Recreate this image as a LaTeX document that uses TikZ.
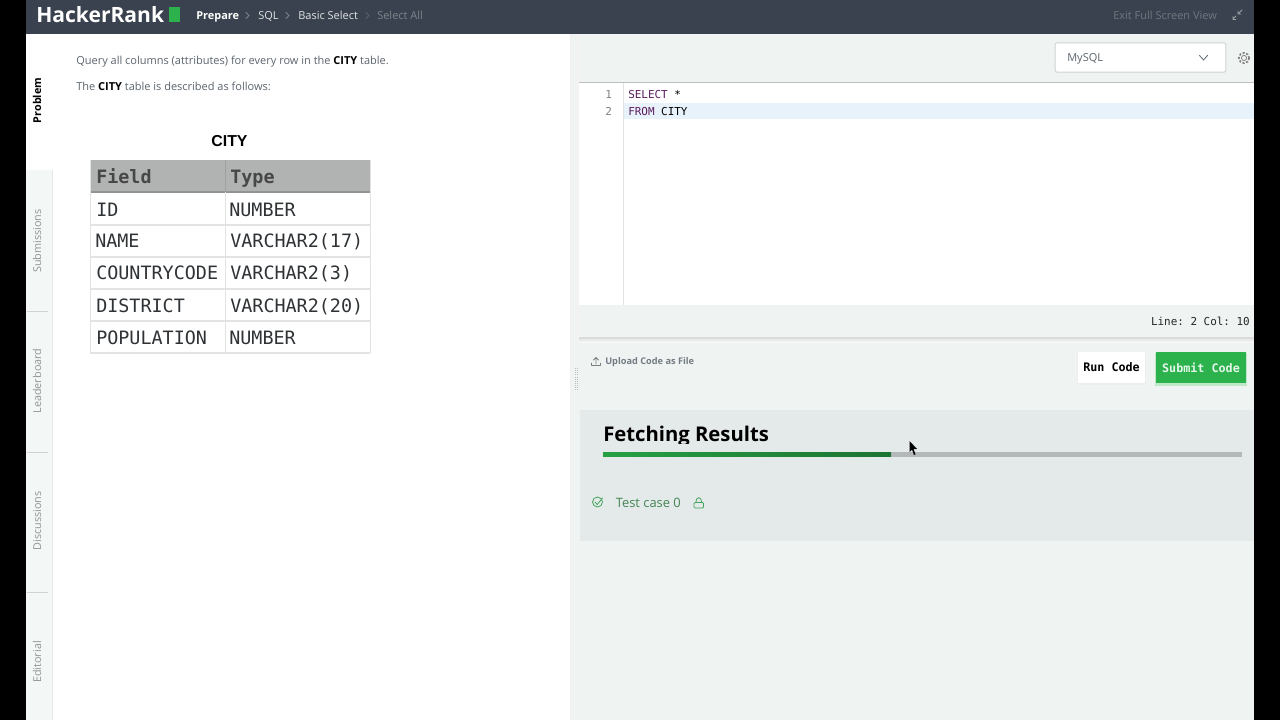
\documentclass[tikz,border=0pt]{standalone}
\usepackage{fontspec}
\setmainfont{Open Sans}
\setmonofont{DejaVu Sans Mono}
\newfontfamily\titlefont{Liberation Sans}

\definecolor{barbg}{HTML}{39424E}
\definecolor{panelbg}{HTML}{EFF4F2}
\definecolor{resultbg}{HTML}{E3EAE9}
\definecolor{tabbg}{HTML}{F3F7F6}
\definecolor{hrgreen}{HTML}{2BB24C}
\definecolor{headgray}{HTML}{B0B3B2}
\definecolor{gridgray}{HTML}{E2E4E4}
\definecolor{bodytext}{HTML}{5B646E}
\definecolor{celltext}{HTML}{2F3336}
\definecolor{keyword}{HTML}{5A1B5E}
\definecolor{lineblue}{HTML}{E8F2FA}

\tikzset{
    crumb/.style={inner sep=0, anchor=west, text height=6pt, text depth=0pt, font=\fontsize{8.25}{10}\selectfont},
    tablabel/.style={inner sep=0, rotate=90, text=gray!85, text height=6pt, text depth=0pt, font=\fontsize{8.1}{10}\selectfont},
    prose/.style={crumb, text=bodytext},
    cell/.style={inner sep=0, anchor=west, text=celltext, text height=10pt, text depth=0pt, font=\ttfamily\fontsize{13.8}{15}\selectfont},
    headcell/.style={cell, text=black!72, font=\ttfamily\bfseries\fontsize{13.8}{15}\selectfont},
    code/.style={inner sep=0, anchor=west, text height=6pt, text depth=0pt, font=\ttfamily\fontsize{8.2}{10}\selectfont},
    action/.style={inner sep=0, minimum height=23.25pt, font=\ttfamily\bfseries\fontsize{8.8}{10}\selectfont},
    icon/.style={line width=0.6pt, line cap=round, line join=round}
}

\begin{document}
\begin{tikzpicture}[x=0.75pt, y=-0.75pt]
    \useasboundingbox (0,0) rectangle (1280,720);
    \fill[black] (0,0) rectangle (1280,720);

    % panels
    \fill[white] (26,34) rectangle (570,720);
    \fill[panelbg] (570,34) rectangle (1254,720);
    \fill[tabbg] (26,170) rectangle (52,720);
    \fill[barbg] (26,0) rectangle (1254,34);

    % top bar
    \node[inner sep=0, anchor=west, text=white, text height=11pt, text depth=0pt, font=\bfseries\fontsize{15.8}{18}\selectfont] (logo) at (36,15) {HackerRank};
    \fill[hrgreen] (169,7.5) rectangle (180,22.5);
    \node[crumb, text=white, font=\bfseries\fontsize{8.2}{10}\selectfont] (prepare) at (196,15.5) {Prepare};
    \node[crumb, text=white!85!barbg] (sql) at (258,15.5) {SQL};
    \node[crumb, text=white!85!barbg] (basic) at (298,15.5) {Basic Select};
    \node[crumb, text=white!35!barbg] (selectall) at (377,15.5) {Select All};
    \draw[icon, color=white!35!barbg] (246,12.5) -- (249,15.5) -- (246,18.5);
    \draw[icon, color=white!35!barbg] (286,12.5) -- (289,15.5) -- (286,18.5);
    \draw[icon, color=white!15!barbg] (366,12.5) -- (369,15.5) -- (366,18.5);
    \node[crumb, text=white!28!barbg] (exitfull) at (1113,15.5) {Exit Full Screen View};
    \draw[icon, color=white!50!barbg] (1233,19) -- (1236,16) (1233,16.5) -- (1233,19.5) -- (1236,19.5);
    \draw[icon, color=white!50!barbg] (1238,14) -- (1242,10) (1238,11) -- (1238,14) -- (1241,14);

    % side tabs
    \node[tablabel, text=black, font=\bfseries\fontsize{8.1}{10}\selectfont] (problem) at (37,100.5) {Problem};
    \node[tablabel] (submissions) at (37,241) {Submissions};
    \node[tablabel] (leaderboard) at (37,381) {Leaderboard};
    \node[tablabel] (discussions) at (37,521) {Discussions};
    \node[tablabel] (editorial) at (37,662) {Editorial};
    \foreach \y in {311,452,592}
        \draw[color=gray!35, line width=0.5pt] (27,\y) -- (48,\y);
    \draw[color=gray!18, line width=0.5pt] (52,170) -- (52,720);
    \draw[color=gray!12, line width=0.5pt] (570,34) -- (570,720);

    % problem text
    \node[prose] (query) at (76,61) {Query all columns (attributes) for every row in the \textbf{\color{black}CITY} table.};
    \node[prose] (described) at (76,87) {The \textbf{\color{black}CITY} table is described as follows:};
    \node[inner sep=0, font=\titlefont\bfseries\fontsize{11.9}{14}\selectfont] (title) at (229.5,141) {CITY};

    % table
    \fill[headgray] (90,160) rectangle (370,192);
    \draw[color=gray!85, line width=0.8pt] (90,192) -- (370,192);
    \foreach \y in {225,257,289,321,353}
        \draw[color=gridgray, line width=0.8pt] (90,\y) -- (370,\y);
    \draw[color=gridgray, line width=0.6pt] (90,160) -- (90,353) (225,192) -- (225,353) (370,160) -- (370,353);
    \draw[color=headgray!90!black, line width=0.4pt] (225,160) -- (225,192);
    \node[headcell] (field) at (96,176.5) {Field};
    \node[headcell] (type) at (230,176.5) {Type};
    \node[cell] (idf) at (96,209.5) {ID};
    \node[cell] (idt) at (229,209.5) {NUMBER};
    \node[cell] (namef) at (95,241) {NAME};
    \node[cell] (namet) at (230,241) {VARCHAR2(17)};
    \node[cell] (codef) at (96,273) {COUNTRYCODE};
    \node[cell] (codet) at (230,273) {VARCHAR2(3)};
    \node[cell] (distf) at (96,305.5) {DISTRICT};
    \node[cell] (distt) at (230,305.5) {VARCHAR2(20)};
    \node[cell] (popf) at (96,337.5) {POPULATION};
    \node[cell] (popt) at (229,337.5) {NUMBER};

    % editor card
    \fill[color=black!14] (579,337) rectangle (1254,339);
    \fill[color=black!9] (579,339) rectangle (1254,341);
    \fill[color=black!4] (579,341) rectangle (1254,343);
    \fill[color=black!5] (576,34) rectangle (579,338);
    \fill[panelbg] (579,34) rectangle (1254,337);
    \fill[white] (579,83) rectangle (1254,305);
    \draw[color=gray!50, line width=0.6pt] (579,82.5) -- (1254,82.5);
    \fill[lineblue] (624,103) rectangle (1254,119.5);
    \draw[color=gray!22, line width=0.5pt] (623.5,83) -- (623.5,305);
    \node[inner sep=0, fill=white, draw=gray!35, rounded corners=1.5pt, line width=0.7pt, minimum width=128pt, minimum height=22pt] (dialect) at (1140.5,57.5) {};
    \node[crumb, text=bodytext] (mysql) at (1067,57.5) {MySQL};
    \draw[icon, color=bodytext] (1199.5,55.5) -- (1203.5,60) -- (1207.5,55.5);
    \draw[icon, color=gray] (1244,58) circle (2.6);
    \draw[color=gray, line width=1.2pt, dash pattern=on 1.6pt off 1.2pt] (1244,58) circle (5.2);
    \node[code, text=gray] (numone) at (605,95) {1};
    \node[code, text=gray] (numtwo) at (605,111.5) {2};
    \node[code, text=keyword] (select) at (628,95) {SELECT \textcolor{black}{*}};
    \node[code, text=keyword] (from) at (628,111.5) {FROM \textcolor{black}{CITY}};
    \node[code, anchor=east, text=black!85] (status) at (1250,321.5) {Line: 2 Col: 10};

    % actions
    \draw[icon, color=gray] (596,357.5) -- (596,364) (593.5,360) -- (596,357.5) -- (598.5,360) (591.5,363) -- (591.5,365.5) -- (600.5,365.5) -- (600.5,363);
    \node[inner sep=0, anchor=west, text=bodytext!85, text height=5pt, text depth=0pt, font=\bfseries\fontsize{6.9}{9}\selectfont] (upload) at (605,361) {Upload Code as File};
    \foreach \x in {575,577}
        \draw[color=gray!50, line width=0.7pt, dash pattern=on 0.8pt off 0.8pt] (\x,368) -- (\x,391);
    \fill[color=black!7] (1077,353) rectangle (1146,385);
    \fill[color=hrgreen!30] (1155,353) rectangle (1247,386);
    \node[action, fill=white, text=black, minimum width=50.25pt] (run) at (1111.5,367.5) {Run Code};
    \node[action, fill=hrgreen, text=white!88!hrgreen, minimum width=67.5pt] (submit) at (1201,367.5) {Submit Code};

    % results
    \fill[resultbg] (580,410) rectangle (1254,541);
    \node[inner sep=0, anchor=west, text=black, text height=10.5pt, text depth=0pt, font=\bfseries\fontsize{15.2}{18}\selectfont] (fetching) at (603,434.5) {Fetching Results};
    \fill[resultbg] (600,443.5) rectangle (800,452);
    \fill[color=headgray!90!resultbg] (603,452) rectangle (1242,456.5);
    \fill[left color=hrgreen!90!black, right color=hrgreen!65!black] (603,452) rectangle (891,456.5);
    \fill[black] (909.5,441) -- (909.5,452) -- (912,449.5) -- (914,455) -- (915.5,454.3) -- (913.5,449) -- (917,449) -- cycle;
    \draw[icon, color=hrgreen!70!gray] (597.5,502) circle (5);
    \draw[icon, color=hrgreen!70!gray] (595,502) -- (597.2,504.5) -- (602.5,498);
    \node[inner sep=0, anchor=west, text=hrgreen!55!gray!85!black, text height=6.5pt, text depth=0pt, font=\fontsize{9.7}{11}\selectfont] (testcase) at (615.5,503) {Test case 0};
    \draw[icon, color=hrgreen!70!gray, rounded corners=0.8pt] (694,502.5) rectangle (703.5,508);
    \draw[icon, color=hrgreen!70!gray] (696,502.5) .. controls (696,496) and (701.5,496) .. (701.5,502.5);
\end{tikzpicture}
\end{document}
